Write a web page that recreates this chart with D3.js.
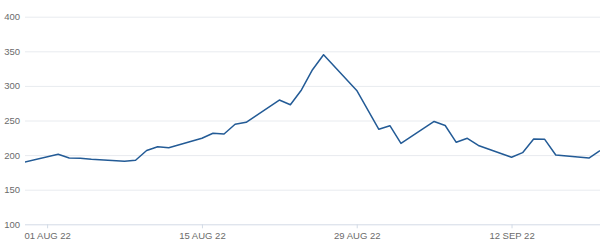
<!DOCTYPE html>
<html>
<head>
<meta charset="utf-8">
<script src="https://cdn.jsdelivr.net/npm/d3@7"></script>
<style>
  body { margin: 0; background: #fff; }
  svg { display: block; font-family: Inter, "Noto Sans", sans-serif; }
</style>
</head>
<body>
<svg id="chart" width="600" height="251"></svg>
<script>
// trading days (weekends / holidays missing)
var dates = ["2022-07-29", "2022-08-02", "2022-08-03", "2022-08-04", "2022-08-05",
  "2022-08-08", "2022-08-09", "2022-08-10", "2022-08-11", "2022-08-12",
  "2022-08-15", "2022-08-16", "2022-08-17", "2022-08-18", "2022-08-19",
  "2022-08-22", "2022-08-23", "2022-08-24", "2022-08-25", "2022-08-26",
  "2022-08-29", "2022-08-31", "2022-09-01", "2022-09-02",
  "2022-09-05", "2022-09-06", "2022-09-07", "2022-09-08", "2022-09-09",
  "2022-09-12", "2022-09-13", "2022-09-14", "2022-09-15", "2022-09-16",
  "2022-09-19", "2022-09-20"];
var values = [186.3, 201.2, 195.8, 195.6, 193.9,
  191.0, 192.5, 206.6, 212.1, 210.7,
  224.3, 231.5, 230.5, 244.5, 247.4,
  279.6, 272.8, 294.1, 323.4, 345.1,
  293.4, 237.3, 242.5, 216.8,
  248.6, 242.8, 218.5, 224.3, 213.9,
  196.8, 203.5, 223.3, 222.8, 200.1,
  195.8, 206.4];
var yTicks = [100, 150, 200, 250, 300, 350, 400];
var xTicks = ["2022-08-01", "2022-08-15", "2022-08-29", "2022-09-12"];
var xDomain = ["2022-07-30", "2022-09-20"];

var W = 600, H = 251;
var margin = {top: 16.7, right: 0, bottom: 26.7, left: 25};
var parse = d3.utcParse("%Y-%m-%d");
var fmt = d3.utcFormat("%d %b %y");

var data = dates.map(function (d, i) { return {date: parse(d), value: values[i]}; });

var svg = d3.select("#chart");

var x = d3.scaleUtc()
  .domain(xDomain.map(parse))
  .range([margin.left, W - margin.right]);
var y = d3.scaleLinear()
  .domain([100, 400])
  .range([H - margin.bottom, margin.top]);

svg.append("clipPath")
  .attr("id", "plotClip")
  .append("rect")
  .attr("x", margin.left)
  .attr("y", 0)
  .attr("width", W - margin.left - margin.right)
  .attr("height", H);

// y grid + labels
var yAxis = svg.append("g")
  .call(d3.axisLeft(y).tickValues(yTicks).tickSize(-(W - margin.left - margin.right)).tickPadding(5))
  .attr("transform", "translate(" + margin.left + ",0)");
yAxis.select(".domain").remove();
yAxis.selectAll(".tick line")
  .attr("stroke", function (d) { return d === 100 ? "#d3dbe6" : "#e8ebef"; })
  .attr("stroke-width", 1);
yAxis.selectAll(".tick text")
  .attr("fill", "#6b6b6b")
  .style("font-size", "9.5px");

// x ticks + labels
var xAxis = svg.append("g")
  .attr("transform", "translate(0," + y(100) + ")")
  .call(d3.axisBottom(x).tickValues(xTicks.map(parse)).tickSize(4).tickPadding(4)
    .tickFormat(function (d) { return fmt(d).toUpperCase(); }));
xAxis.select(".domain").remove();
xAxis.selectAll(".tick line").attr("stroke", "#d3dbe6");
xAxis.selectAll(".tick text")
  .attr("fill", "#6b6b6b")
  .style("font-size", "9.5px");

var line = d3.line()
  .x(function (d) { return x(d.date); })
  .y(function (d) { return y(d.value); });

svg.append("path")
  .datum(data)
  .attr("clip-path", "url(#plotClip)")
  .attr("fill", "none")
  .attr("stroke", "#235b96")
  .attr("stroke-width", 1.5)
  .attr("stroke-linejoin", "round")
  .attr("d", line);
</script>
</body>
</html>
